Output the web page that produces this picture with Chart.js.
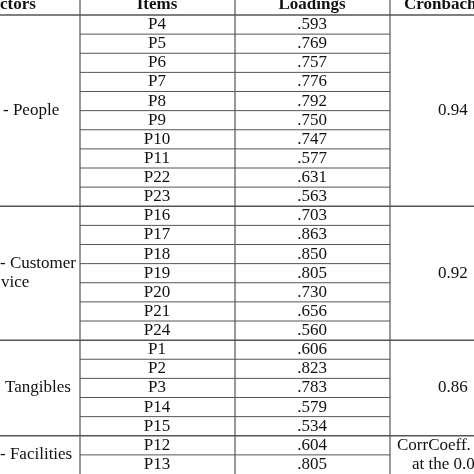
<!DOCTYPE html>
<html>
<head>
<meta charset="utf-8">
<script src="https://cdn.jsdelivr.net/npm/chart.js@4/dist/chart.umd.min.js"></script>
<style>
  body { margin: 0; background: #fff; }
  #wrap { width: 474px; height: 474px; }
</style>
</head>
<body>
<div id="wrap"><canvas id="tabla"></canvas></div>
<script>
// Datos de la tabla
const items = ['P4','P5','P6','P7','P8','P9','P10','P11','P22','P23',
               'P16','P17','P18','P19','P20','P21','P24',
               'P1','P2','P3','P14','P15',
               'P12','P13'];
const loadings = ['.593','.769','.757','.776','.792','.750','.747','.577','.631','.563',
                  '.703','.863','.850','.805','.730','.656','.560',
                  '.606','.823','.783','.579','.534',
                  '.604','.805'];
const groupSizes = [10, 7, 5, 2];
const factorLabels = [['- People'], ['- Customer', 'vice'], ['Tangibles'], ['- Facilities']];
const alphaLabels = [['0.94'], ['0.92'], ['0.86'], ['CorrCoeff. =', 'at the 0.0']];
const headers = ['ctors', 'Items', 'Loadings', 'Cronbach'];

const headerH = 15;
const rowH = (474 - headerH) / items.length;
const colLines = [80, 235, 390];

// Plugin que dibuja la tabla usando las escalas del gráfico
const tablaPlugin = {
  id: 'tabla',
  afterDraw(chart) {
    const ctx = chart.ctx;
    const sx = chart.scales.x, sy = chart.scales.y;
    const X = v => sx.getPixelForValue(v);
    const Y = v => sy.getPixelForValue(v);
    ctx.save();
    ctx.strokeStyle = '#555';
    ctx.fillStyle = '#111';
    ctx.textBaseline = 'middle';

    // líneas verticales
    ctx.lineWidth = 1.2;
    colLines.forEach(c => {
      ctx.beginPath(); ctx.moveTo(X(c), Y(0)); ctx.lineTo(X(c), Y(474)); ctx.stroke();
    });
    // línea de cabecera
    ctx.lineWidth = 1.5;
    ctx.beginPath(); ctx.moveTo(X(0), Y(headerH)); ctx.lineTo(X(474), Y(headerH)); ctx.stroke();

    // cabeceras
    ctx.font = 'bold 17px "Liberation Serif"';
    ctx.textAlign = 'left';
    ctx.fillText(headers[0], X(0), Y(5));
    ctx.textAlign = 'center';
    ctx.fillText(headers[1], X(157), Y(5));
    ctx.fillText(headers[2], X(312), Y(5));
    ctx.textAlign = 'left';
    ctx.fillText(headers[3], X(404), Y(5));

    ctx.font = '17px "Liberation Serif"';
    let start = 0;
    groupSizes.forEach((n, g) => {
      const top = headerH + start * rowH;
      const bottom = top + n * rowH;
      // filas
      for (let i = 0; i < n; i++) {
        const k = start + i;
        const cy = top + (i + 0.5) * rowH;
        ctx.textAlign = 'center';
        ctx.fillText(items[k], X(157), Y(cy));
        ctx.fillText(loadings[k], X(312), Y(cy));
        if (i < n - 1) {
          ctx.lineWidth = 1;
          const ly = top + (i + 1) * rowH;
          ctx.beginPath(); ctx.moveTo(X(80), Y(ly)); ctx.lineTo(X(390), Y(ly)); ctx.stroke();
        }
      }
      // línea de grupo
      if (g < groupSizes.length - 1) {
        ctx.lineWidth = 1.5;
        ctx.beginPath(); ctx.moveTo(X(0), Y(bottom)); ctx.lineTo(X(474), Y(bottom)); ctx.stroke();
      }
      // factor y alfa
      const mid = (top + bottom) / 2;
      const fl = factorLabels[g], al = alphaLabels[g];
      ctx.textAlign = 'left';
      fl.forEach((t, j) => {
        const off = (j - (fl.length - 1) / 2) * 19;
        ctx.fillText(t, X(j === 1 ? 1 : (g === 2 ? 5 : (g === 0 ? 3 : 0))), Y(mid + off));
      });
      al.forEach((t, j) => {
        const off = (j - (al.length - 1) / 2) * 19;
        const x0 = g === 3 ? (j === 0 ? 397 : 412) : 438;
        ctx.fillText(t, X(x0), Y(mid + off));
      });
      start += n;
    });
    ctx.restore();
  }
};

new Chart(document.getElementById('tabla'), {
  type: 'scatter',
  data: { datasets: [{ data: [], pointRadius: 0 }] },
  options: {
    responsive: true,
    maintainAspectRatio: false,
    animation: false,
    layout: { padding: 0 },
    plugins: { legend: { display: false }, tooltip: { enabled: false } },
    scales: {
      x: { type: 'linear', min: 0, max: 474, display: false },
      y: { type: 'linear', min: 0, max: 474, reverse: true, display: false }
    }
  },
  plugins: [tablaPlugin]
});
</script>
</body>
</html>
